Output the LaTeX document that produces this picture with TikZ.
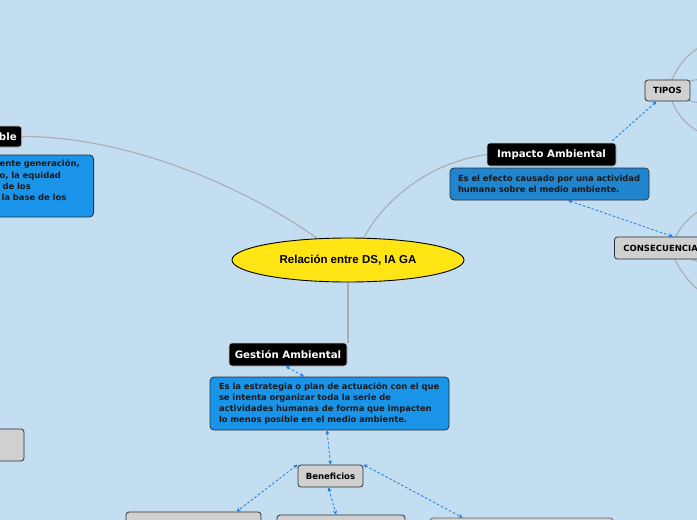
\documentclass[tikz,border=0pt]{standalone}
\usepackage{fontspec}
\setmainfont{DejaVu Sans}
\newfontfamily\arialfont{Liberation Sans}
\usetikzlibrary{shapes.geometric,arrows.meta,backgrounds}
\definecolor{bgblue}{RGB}{195,222,240}
\definecolor{linkgray}{RGB}{170,174,178}
\definecolor{relblue}{RGB}{30,122,222}
\definecolor{descA}{RGB}{33,133,205}
\definecolor{descB}{RGB}{26,148,232}
\definecolor{boxgray}{RGB}{208,208,208}
\definecolor{edge}{RGB}{40,48,56}
\definecolor{yel}{RGB}{255,229,20}
\begin{document}
\begin{tikzpicture}[x=1pt,y=-1pt,
  blackbox/.style={fill=black, draw=gray!50, line width=0.6pt, rounded corners=3pt, text=white, font=\bfseries\fontsize{10.2}{12}\selectfont, inner sep=0pt, minimum height=23pt},
  descbox/.style={draw=edge, line width=0.8pt, rounded corners=4pt, font=\bfseries\fontsize{8.4}{11.3}\selectfont, align=left, inner ysep=0pt, text=black!90},
  graybox/.style={fill=boxgray, draw=edge, line width=0.8pt, rounded corners=3pt, font=\bfseries\fontsize{8.5}{10}\selectfont, inner sep=0pt},
  link/.style={draw=linkgray, line width=1.1pt},
  rel/.style={draw=relblue, line width=0.8pt, dash pattern=on 2.5pt off 2pt, {Stealth[length=4pt,width=4pt]}-{Stealth[length=4pt,width=4pt]}},
  relone/.style={draw=relblue, line width=0.8pt, dash pattern=on 2.5pt off 2pt, -{Stealth[length=4pt,width=4pt]}}
]
\useasboundingbox (0,0) rectangle (697,520);

% central topic
\node[ellipse, fill=yel, draw=black, line width=0.9pt, minimum width=232pt, minimum height=44pt, inner sep=0pt, font=\arialfont\bfseries\fontsize{11.5}{13}\selectfont] (ell) at (348,260) {Relación entre DS, IA GA};

% left branch
\node[blackbox, anchor=east, text width=80pt, align=right, inner xsep=5pt, minimum height=21pt] (sust) at (22,136.5) {ble};
\node[descbox, fill=descB, anchor=east, text width=90pt, inner xsep=4pt, minimum height=62pt] (sustdesc) at (94,186) {ente generación,\\o, la equidad\\\hspace*{3pt}de los\\\hspace*{2pt}la base de los\\\mbox{}};
\node[graybox, minimum width=44pt, minimum height=32pt] (lg) at (2,445) {};

% right branch
\node[blackbox, minimum width=129pt] (imp) at (551.5,154.5) {Impacto Ambiental};
\node[descbox, fill=descA, text width=183pt, inner xsep=8pt, minimum height=32pt] (impdesc) at (549.5,184) {Es el efecto causado por una actividad\\humana sobre el medio ambiente.};
\node[graybox, minimum width=45pt, minimum height=21pt] (tipos) at (667.5,90.5) {TIPOS};
\node[graybox, anchor=west, minimum height=22pt, inner xsep=9pt] (cons) at (614,248) {CONSECUENCIA};

% bottom branch
\node[blackbox, minimum width=118pt] (gest) at (288,354.5) {Gestión Ambiental};
\node[descbox, fill=descB, text width=221pt, inner xsep=9pt, minimum height=53pt] (gdesc) at (329.5,403.5) {Es la estrategia o plan de actuación con el que\\se intenta organizar toda la serie de\\actividades humanas de forma que impacten\\lo menos posible en el medio ambiente.};
\node[graybox, minimum width=65pt, minimum height=22pt] (benef) at (330.5,476) {Beneficios};
\node[graybox, minimum width=135pt, minimum height=36pt] (b1) at (193.5,530) {};
\node[graybox, minimum width=128pt, minimum height=36pt] (b2) at (341,533) {};
\node[graybox, draw=gray!80!black, minimum width=183pt, minimum height=36pt] (b3) at (521.5,536) {};

% free ends of links leaving the picture
\coordinate (t1) at (712,40);
\coordinate (t2) at (712,78);
\coordinate (t3) at (712,104);
\coordinate (t4) at (712,138);
\coordinate (c1) at (712,204);
\coordinate (c2) at (712,265);
\coordinate (c3) at (712,300);

% dashed relations
\draw[relone] ([xshift=-4pt,yshift=2pt]imp.north east) -- ([xshift=-11pt]tipos.south);
\draw[rel] ([xshift=18.5pt]impdesc.south) -- ([xshift=59pt]cons.north west);
\draw[rel] ([xshift=-2pt]gest.south) -- ([xshift=-25.5pt]gdesc.north);
\draw[rel] ([xshift=-2.5pt]gdesc.south) -- (benef.north);
\draw[rel] (benef.north west) -- ([xshift=111pt]b1.north west);
\draw[rel] ([xshift=-2pt]benef.south) -- ([xshift=-5pt]b2.north);
\draw[rel] (benef.north east) -- ([xshift=33pt]b3.north west);

\begin{scope}[on background layer]
\fill[bgblue] (0,0) rectangle (697,520);
\draw[link] (ell.145) .. controls (250,190) and (130,136) .. (sust.east);
\draw[link] (ell.54) .. controls (375,215) and (415,165) .. (imp.west);
\draw[link] (ell.south) -- (ell.south |- gest.north);
\draw[link] (tipos.center) .. controls (676,68) and (684,54) .. (t1);
\draw[link] (tipos.center) .. controls (690,80) .. (t2);
\draw[link] (tipos.center) .. controls (690,102) .. (t3);
\draw[link] (tipos.center) .. controls (676,113) and (684,127) .. (t4);
\draw[link] ([xshift=58pt]cons.west) .. controls (676,230) and (688,215) .. (c1);
\draw[link] ([xshift=70pt]cons.west) .. controls (690,260) .. (c2);
\draw[link] ([xshift=56pt]cons.west) .. controls (678,268) and (688,285) .. (c3);
\end{scope}
\end{tikzpicture}
\end{document}
